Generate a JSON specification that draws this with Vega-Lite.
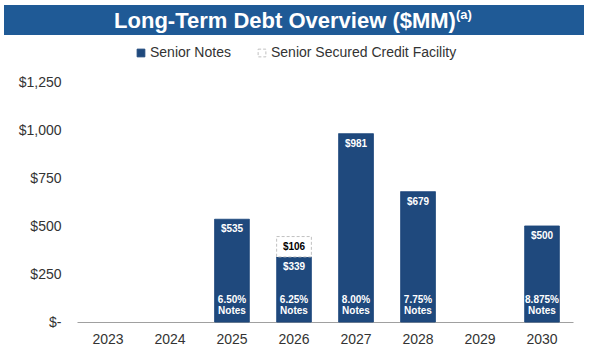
{
  "$schema": "https://vega.github.io/schema/vega-lite/v6.json",
  "padding": {"left": 4, "top": 5, "right": 4, "bottom": 0},
  "background": "white",
  "spacing": 40,
  "datasets": {
    "debt": [
      {"year": "2025", "type": "Senior Notes", "amount": 535, "note": "6.50% Notes"},
      {"year": "2026", "type": "Senior Notes", "amount": 339, "note": "6.25% Notes"},
      {"year": "2026", "type": "Senior Secured Credit Facility", "amount": 106, "note": null},
      {"year": "2027", "type": "Senior Notes", "amount": 981, "note": "8.00% Notes"},
      {"year": "2028", "type": "Senior Notes", "amount": 679, "note": "7.75% Notes"},
      {"year": "2030", "type": "Senior Notes", "amount": 500, "note": "8.875% Notes"}
    ],
    "heading": [
      {"title": "Long-Term Debt Overview ($MM)", "mark": "(a)", "pos": 0.5}
    ]
  },
  "vconcat": [
    {
      "width": 580,
      "height": 30,
      "view": {"fill": "#1F5A96", "stroke": null},
      "data": {"name": "heading"},
      "encoding": {
        "x": {"field": "pos", "type": "quantitative", "scale": {"domain": [0, 1]}, "axis": null}
      },
      "layer": [
        {
          "mark": {"type": "text", "font": "Liberation Sans", "fontWeight": "bold", "fontSize": 22, "color": "white", "align": "center", "baseline": "middle", "dx": -9, "dy": 1},
          "encoding": {"text": {"field": "title"}}
        },
        {
          "mark": {"type": "text", "font": "Liberation Sans", "fontWeight": "bold", "fontSize": 13, "color": "white", "align": "left", "baseline": "middle", "dx": 162, "dy": -5},
          "encoding": {"text": {"field": "mark"}}
        }
      ]
    },
    {
      "width": 569,
      "height": 240,
      "data": {"name": "debt"},
      "encoding": {
        "x": {
          "field": "year",
          "type": "ordinal",
          "scale": {"domain": ["2023", "2024", "2025", "2026", "2027", "2028", "2029", "2030"], "range": [73, 569], "paddingInner": 0.44, "paddingOuter": 0.22},
          "axis": {"title": null, "labelAngle": 0, "ticks": false, "domainColor": "#a0a0a0", "domainWidth": 1, "labelFontSize": 14, "labelColor": "#333333", "labelPadding": 10, "labelBaseline": "top"}
        }
      },
      "layer": [
        {
          "mark": {"type": "bar", "strokeWidth": 1},
          "encoding": {
            "y": {
              "field": "amount",
              "type": "quantitative",
              "stack": "zero",
              "scale": {"domain": [0, 1250], "nice": false},
              "axis": {"title": null, "offset": -73, "values": [0, 250, 500, 750, 1000, 1250], "grid": false, "domain": false, "ticks": false, "labelPadding": 16, "labelFontSize": 14, "labelColor": "#333333", "labelExpr": "datum.value === 0 ? '$-\u00a0\u00a0' : '$' + format(datum.value, ',')"}
            },
            "order": {"field": "type", "sort": "ascending"},
            "fill": {
              "field": "type",
              "type": "nominal",
              "scale": {"domain": ["Senior Notes", "Senior Secured Credit Facility"], "range": ["#1F497D", "#ffffff"]},
              "legend": {"title": null, "orient": "none", "legendX": 130, "legendY": 41, "direction": "horizontal", "symbolType": "square", "symbolSize": 60, "labelFontSize": 14, "labelColor": "#333333", "labelLimit": 300, "columnPadding": 24, "labelOffset": 2, "symbolStrokeWidth": 1}
            },
            "stroke": {
              "field": "type",
              "type": "nominal",
              "scale": {"domain": ["Senior Notes", "Senior Secured Credit Facility"], "range": ["#1F497D", "#c0c0c0"]},
              "legend": {"title": null, "orient": "none", "legendX": 130, "legendY": 41, "direction": "horizontal", "symbolType": "square", "symbolSize": 60, "labelFontSize": 14, "labelColor": "#333333", "labelLimit": 300, "columnPadding": 24, "labelOffset": 2, "symbolStrokeWidth": 1}
            },
            "strokeDash": {
              "field": "type",
              "type": "nominal",
              "scale": {"domain": ["Senior Notes", "Senior Secured Credit Facility"], "range": [[1, 0], [3, 2]]},
              "legend": {"title": null, "orient": "none", "legendX": 130, "legendY": 41, "direction": "horizontal", "symbolType": "square", "symbolSize": 60, "labelFontSize": 14, "labelColor": "#333333", "labelLimit": 300, "columnPadding": 24, "labelOffset": 2, "symbolStrokeWidth": 1}
            }
          }
        },
        {
          "mark": {"type": "text", "fontWeight": "bold", "fontSize": 10, "baseline": "middle", "align": "center", "dy": 10},
          "encoding": {
            "y": {"field": "amount", "type": "quantitative", "stack": "zero"},
            "order": {"field": "type", "sort": "ascending"},
            "text": {"field": "amount", "type": "quantitative", "format": "$,.0f"},
            "color": {"condition": {"test": "datum.type === 'Senior Secured Credit Facility'", "value": "#000000"}, "value": "#ffffff"}
          }
        },
        {
          "transform": [{"filter": "datum.note != null"}],
          "mark": {"type": "text", "fontWeight": "bold", "fontSize": 10, "baseline": "middle", "align": "center", "dy": -22, "lineBreak": " ", "lineHeight": 11, "color": "#ffffff"},
          "encoding": {
            "y": {"datum": 0, "type": "quantitative"},
            "text": {"field": "note"}
          }
        }
      ]
    }
  ],
  "config": {
    "font": "Liberation Sans",
    "view": {"stroke": null},
    "axis": {"labelFont": "Liberation Sans"},
    "legend": {"labelFont": "Liberation Sans"}
  }
}
